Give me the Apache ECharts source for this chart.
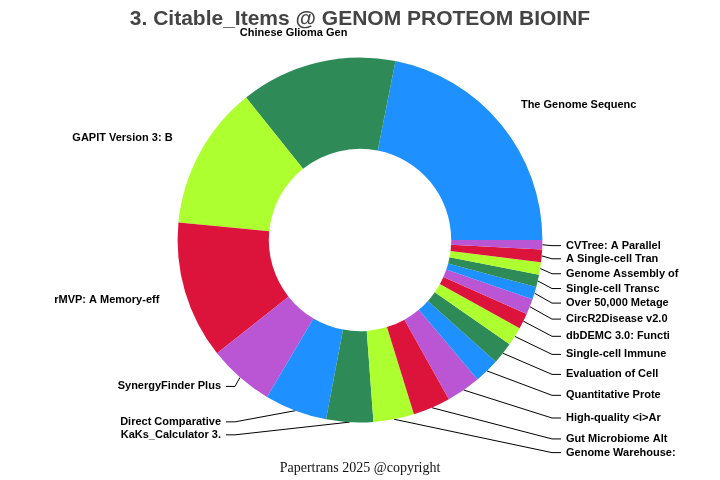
<!DOCTYPE html>
<html>
<head>
<meta charset="utf-8">
<script src="https://cdn.jsdelivr.net/npm/echarts@6/dist/echarts.min.js"></script>
<style>
html,body{margin:0;padding:0;background:#fff;}
#chart{width:720px;height:480px;}
</style>
</head>
<body>
<div id="chart"></div>
<script>
const chartTitle = '3. Citable_Items @ GENOM PROTEOM BIOINF';
const footerText = 'Papertrans 2025 @copyright';
const categories = [
  'The Genome Sequenc', 'Chinese Glioma Gen', 'GAPIT Version 3: B', 'rMVP: A Memory-eff',
  'SynergyFinder Plus', 'Direct Comparative', 'KaKs_Calculator 3.', 'Genome Warehouse:',
  'Gut Microbiome Alt', 'High-quality <i>Ar', 'Quantitative Prote', 'Evaluation of Cell',
  'Single-cell Immune', 'dbDEMC 3.0: Functi', 'CircR2Disease v2.0', 'Over 50,000 Metage',
  'Single-cell Transc', 'Genome Assembly of', 'A Single-cell Tran', 'CVTree: A Parallel'
];
const values = [79, 50, 46, 44, 21, 20, 15, 13, 12, 11, 8, 7, 6, 5, 5, 4, 4, 4, 4, 3];
const palette = ['#1E90FF', '#2E8B57', '#ADFF2F', '#DC143C', '#BA55D3'];

const bigCount = 4;
const edgeGap = 10;
const rightBoxW = 144;
const leftBoxW = 211;
const lineGap = 5;
const lineTail = 9;

const total = values.reduce((a, b) => a + b, 0);
let cum = 0;
const sides = values.map(v => {
  const mid = (cum + v / 2) / total * 2 * Math.PI; // counter-clockwise from 3 o'clock
  cum += v;
  return Math.cos(mid) < 0 ? 'l' : 'r';
});

const pieData = categories.map((name, i) => {
  const item = { name: name, value: values[i] };
  if (i < bigCount) {
    item.labelLine = { show: false, length: 31, length2: 0 };
    item.label = { alignTo: 'none', distanceToLabelLine: -4 };
  } else {
    item.label = { width: sides[i] === 'l' ? leftBoxW : rightBoxW };
    if (sides[i] === 'l') item.labelLine = { length: 12 };
  }
  return item;
});

const labelFont = { fontFamily: 'Liberation Sans, Arial, sans-serif', fontSize: 11, fontWeight: 'bold', color: '#000000' };

const chart = echarts.init(document.getElementById('chart'), null, { renderer: 'canvas' });
chart.setOption({
  animation: false,
  color: palette,
  title: [
    {
      text: chartTitle,
      left: 'center',
      top: 4,
      textStyle: { fontFamily: 'Liberation Sans, Arial, sans-serif', fontSize: 21, fontWeight: 'bold', color: '#444444' }
    },
    {
      text: footerText,
      left: 'center',
      top: 456,
      textStyle: { fontFamily: 'Liberation Serif, Times New Roman, serif', fontSize: 14, fontWeight: 'normal', color: '#111111' }
    }
  ],
  series: [{
    type: 'pie',
    center: ['50%', '50%'],
    radius: ['38%', '76%'],
    startAngle: 0,
    clockwise: false,
    avoidLabelOverlap: true,
    data: pieData,
    itemStyle: { borderWidth: 0 },
    label: Object.assign({
      show: true,
      position: 'outer',
      alignTo: 'edge',
      edgeDistance: edgeGap,
      distanceToLabelLine: lineGap,
      formatter: function (p) {
        if (p.dataIndex < bigCount) return p.name;
        return '{' + sides[p.dataIndex] + '|' + p.name + '}';
      },
      rich: {
        r: Object.assign({ width: rightBoxW, align: 'left' }, labelFont),
        l: Object.assign({ width: leftBoxW, align: 'right' }, labelFont)
      }
    }, labelFont),
    labelLine: {
      show: true,
      length: 34,
      length2: lineTail,
      lineStyle: { color: '#000000', width: 1 }
    },
    labelLayout: function (params) {
      const i = params.dataIndex;
      if (i < bigCount) {
        return i === 1 ? { dx: 34 } : {};
      }
      const pts = params.labelLinePoints;
      const rect = params.labelRect;
      if (!pts || !rect) return {};
      const y = rect.y + rect.height / 2;
      const right = sides[i] === 'r';
      const endX = right ? rect.x - lineGap : rect.x + rect.width + lineGap;
      const midX = right ? endX - lineTail : endX + lineTail;
      return { labelLinePoints: [pts[0], [midX, y], [endX, y]] };
    },
    emphasis: { disabled: true }
  }]
});
</script>
</body>
</html>
